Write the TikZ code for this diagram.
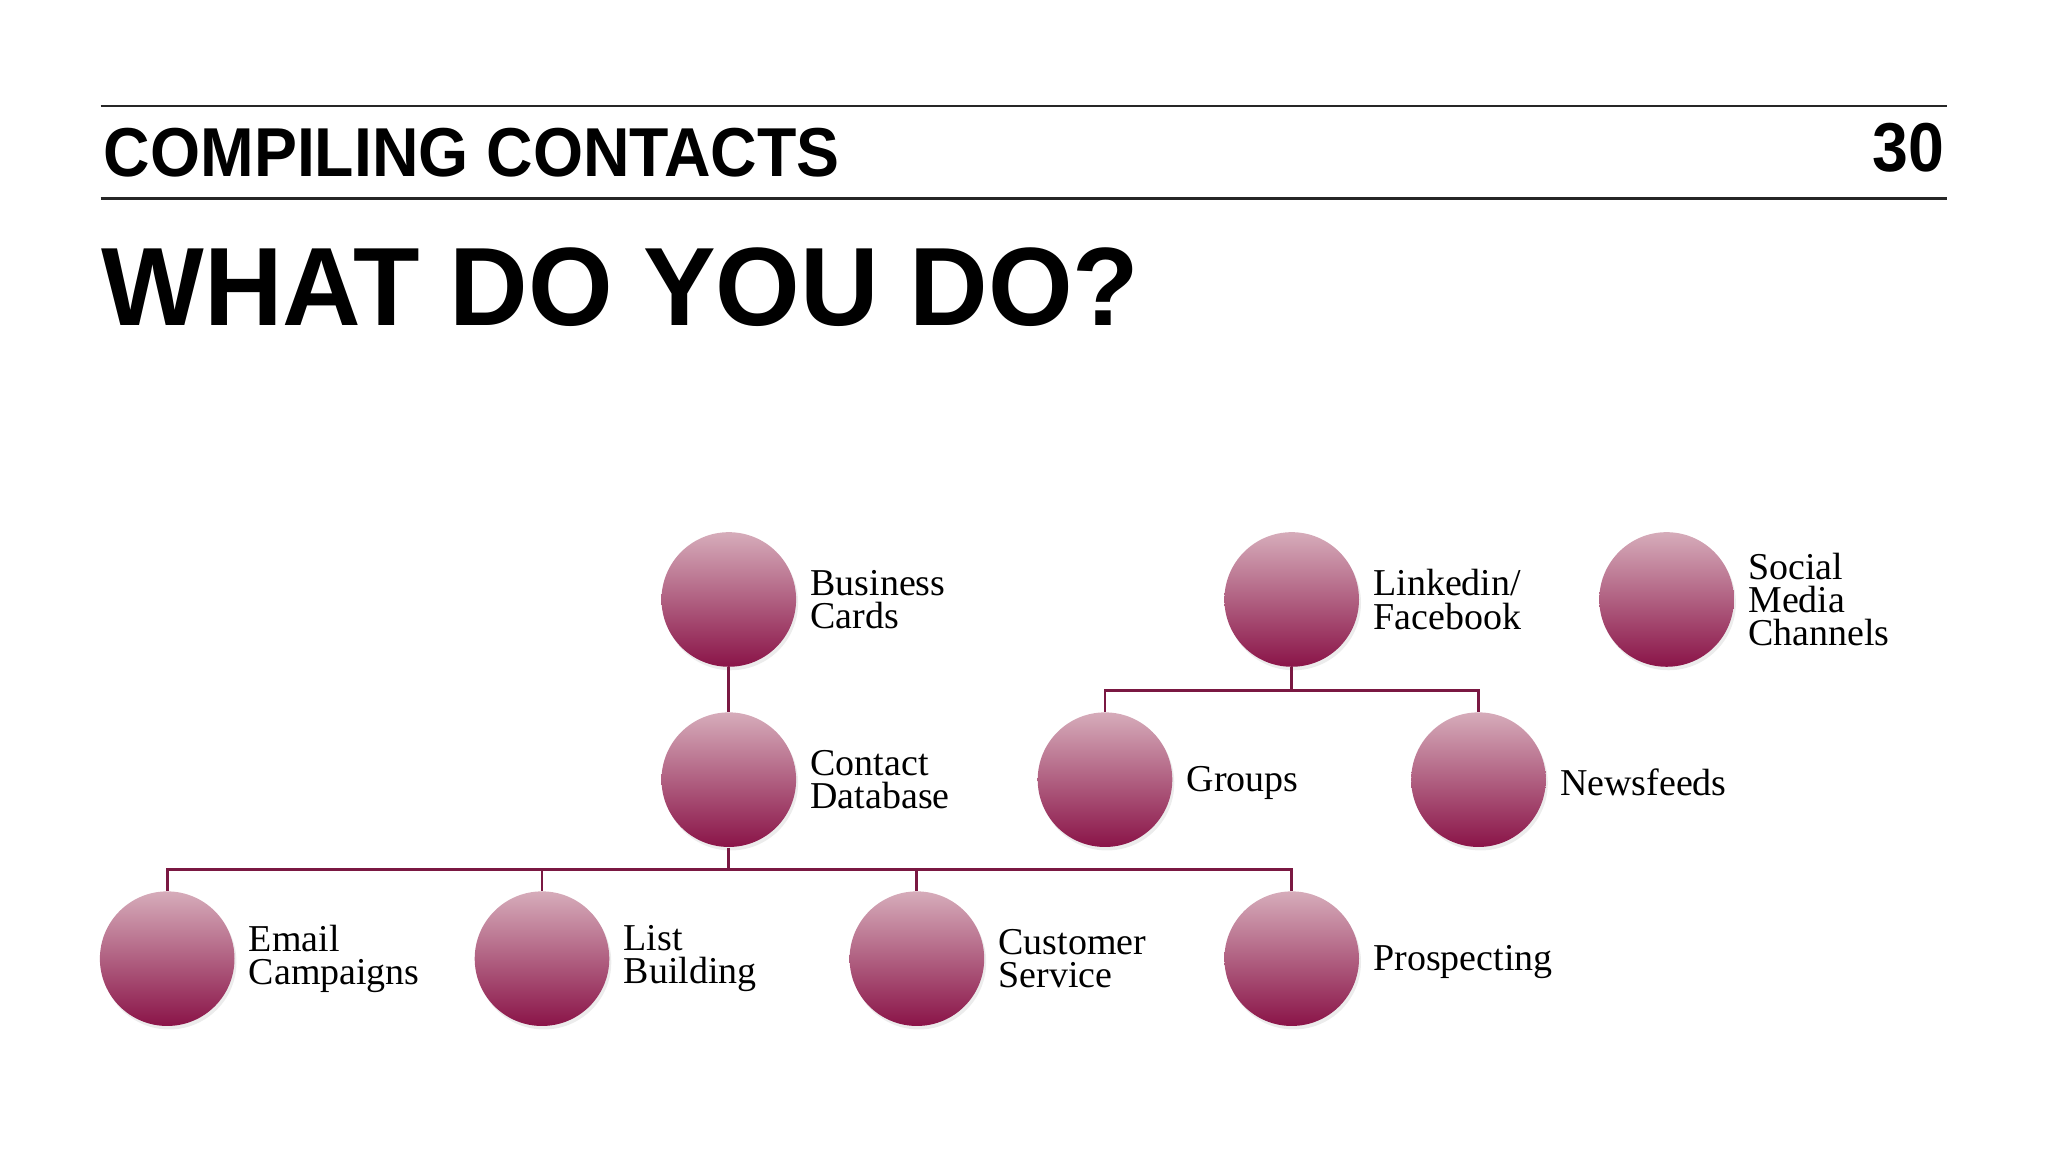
\documentclass[tikz,border=0pt]{standalone}
\usepackage{fontspec}
\setmainfont{Liberation Serif}
\newfontfamily\headfont[FakeStretch=0.93]{Liberation Sans}
\newfontfamily\titlefont[FakeStretch=0.977]{Liberation Sans}
\usetikzlibrary{positioning,shadows}
\definecolor{plum}{RGB}{122,24,66}
\definecolor{bubbletop}{RGB}{214,172,186}
\definecolor{bubblebot}{RGB}{138,20,72}
\tikzstyle{bubble}=[circle, minimum size=1.346cm, inner sep=0pt,
    top color=bubbletop, bottom color=bubblebot,
    drop shadow={opacity=0.15, shadow xshift=0.02cm, shadow yshift=-0.035cm}]
\tikzstyle{caption}=[inner sep=0pt, align=left, font=\fontsize{10.8}{9.5}\selectfont]
\tikzstyle{link}=[draw=plum, line width=0.8pt]
\tikzstyle{rule}=[draw=black!85, line width=0.6pt]
\newcommand{\bubble}{\node[bubble]}

\begin{document}
\begin{tikzpicture}
\useasboundingbox (0,0) rectangle (20.48,11.5);
% heading
\draw[rule] (1.006,10.442) -- (19.474,10.442);
\draw[rule] (1.006,9.515) -- (19.474,9.515);
\node[anchor=base west, inner sep=0pt, font=\headfont\bfseries\fontsize{19.7}{20}\selectfont]
    (head) at (1.032,9.737) {COMPILING CONTACTS};
\node[anchor=base east, inner sep=0pt, font=\headfont\bfseries\fontsize{19.7}{20}\selectfont]
    (page) at (19.448,9.789) {30};
\node[anchor=base west, inner sep=0pt, font=\titlefont\bfseries\fontsize{31.7}{32}\selectfont]
    (title) at (1.006,8.248) {WHAT DO YOU DO?};
% bubbles
\bubble (bc) at (7.288,5.505) {};
\bubble (li) at (12.917,5.505) {};
\bubble (sm) at (16.666,5.505) {};
\bubble (cd) at (7.288,3.703) {};
\bubble (gr) at (11.050,3.703) {};
\bubble (nf) at (14.785,3.703) {};
\bubble (em) at (1.672,1.913) {};
\bubble (lb) at (5.420,1.913) {};
\bubble (cs) at (9.169,1.913) {};
\bubble (pr) at (12.917,1.913) {};
% captions
\node[caption, right=0.13cm of bc] (bctext) {Business\\Cards};
\node[caption, right=0.13cm of li] (litext) {Linkedin/\\Facebook};
\node[caption, right=0.13cm of sm] (smtext) {Social\\Media\\Channels};
\node[caption, right=0.13cm of cd] (cdtext) {Contact\\Database};
\node[caption, right=0.13cm of gr, yshift=-0.03cm] (grtext) {Groups};
\node[caption, right=0.13cm of nf, yshift=-0.03cm] (nftext) {Newsfeeds};
\node[caption, right=0.13cm of em] (emtext) {Email\\Campaigns};
\node[caption, right=0.13cm of lb] (lbtext) {List\\Building};
\node[caption, right=0.13cm of cs] (cstext) {Customer\\Service};
\node[caption, right=0.13cm of pr, yshift=-0.03cm] (prtext) {Prospecting};
% links
\coordinate (cdfork) at ([yshift=-0.216cm]cd.south);
\coordinate (lifork) at ([yshift=-0.228cm]li.south);
\draw[link] (bc) -- (cd);
\draw[link] (cd) -- (cdfork) -| (em);
\draw[link] (cdfork) -| (lb);
\draw[link] (cdfork) -| (cs);
\draw[link] (cdfork) -| (pr);
\draw[link] (li) -- (lifork) -| (gr);
\draw[link] (lifork) -| (nf);
\end{tikzpicture}
\end{document}
